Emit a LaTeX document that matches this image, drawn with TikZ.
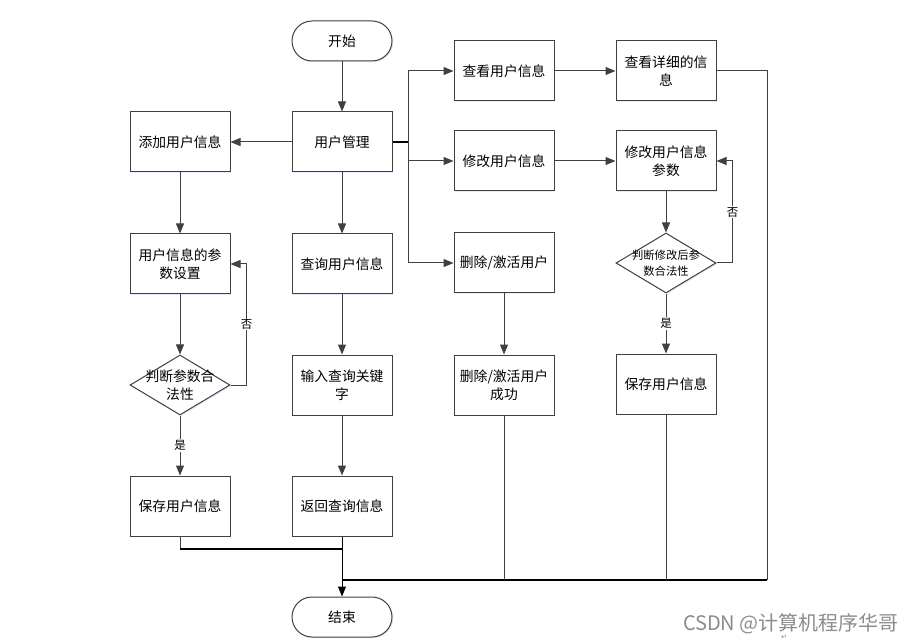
\documentclass[tikz,border=0pt]{standalone}
\usepackage{fontspec}
\setmainfont{Noto Sans CJK SC}
\newfontfamily\symfont{DejaVu Sans}
\usetikzlibrary{shapes.geometric,arrows.meta,shadows}
\begin{document}
\begin{tikzpicture}[x=1pt,y=-1pt,
  every node/.style={font=\fontsize{13.8}{18}\selectfont},
  boxshadow/.style={drop shadow={shadow xshift=1.2pt,shadow yshift=-1.2pt,fill=blue!20!white,opacity=0.45}},
  procbox/.style={draw=black!75,line width=1pt,fill=white,minimum width=100pt,minimum height=60pt,inner sep=1pt,align=center,boxshadow},
  termbox/.style={draw=black!75,line width=1pt,fill=white,rounded corners=20pt,minimum width=100pt,minimum height=40pt,boxshadow},
  decbox/.style={draw=black!75,line width=1pt,fill=white,diamond,minimum width=100pt,minimum height=60pt,inner sep=0pt,aspect=1.667,boxshadow},
  conn/.style={draw=black!75,line width=1pt},
  arr/.style={conn,-{Triangle[length=10pt,width=8pt]}},
  yesno/.style={fill=white,inner sep=1pt,font=\fontsize{11.5}{13}\selectfont}
]
\useasboundingbox (0,0) rectangle (910,644);
\fill[white] (0,0) rectangle (910,644);

% nodes
\node[termbox] (start) at (342,41) {开始};
\node[procbox] (mgmt) at (342,142) {用户管理};
\node[procbox] (add) at (180,142) {添加用户信息};
\node[procbox] (param) at (180,264) {用户信息的参\\数设置};
\node[decbox] (d1) at (180,385) {};
\node[align=center] (d1t) at (d1.center) {判断参数合\\法性};
\node[procbox] (saveL) at (180,506) {保存用户信息};
\node[procbox] (query) at (342,264) {查询用户信息};
\node[procbox] (input) at (342,385) {输入查询关键\\字};
\node[procbox] (ret) at (342,506) {返回查询信息};
\node[termbox] (end) at (342,617) {结束};
\node[procbox] (view) at (504,71) {查看用户信息};
\node[procbox] (detail) at (666,71) {查看详细的信\\息};
\node[procbox] (mod) at (504,161) {修改用户信息};
\node[procbox] (modp) at (666,161) {修改用户信息\\参数};
\node[procbox] (del) at (504,263) {删除/激活用户};
\node[procbox] (delok) at (504,385) {删除/激活用户\\成功};
\node[decbox] (d2) at (666,263) {};
\node[font=\fontsize{11.3}{16}\selectfont,align=center] (d2t) at (d2.center) {判断修改后参\\数合法性};
\node[procbox] (saveR) at (666,384) {保存用户信息};

% coordinates
\coordinate (br) at (408,142);
\coordinate (rt) at (767,71);
\coordinate (rb) at (767,580);
\coordinate (m) at (342,580);
\coordinate (dk) at (504,580);
\coordinate (sr) at (666,580);
\coordinate (sl) at (180,549);
\coordinate (ml) at (342,549);

% connectors
\draw[arr] (start) -- (mgmt);
\draw[arr] (mgmt) -- (add);
\draw[arr] (mgmt) -- (query);
\draw[arr] (add) -- (param);
\draw[arr] (param) -- (d1);
\draw[arr] (d1) -- node[yesno]{是} (saveL);
\draw[arr] (d1.east) -- ++(16,0) |- node[yesno,pos=0.25]{否} (param.east);
\draw[arr] (query) -- (input);
\draw[arr] (input) -- (ret);
\draw[conn,line width=1.5pt,draw=black] (mgmt.east) -- (br);
\draw[arr] (br) |- (view.west);
\draw[arr] (br) |- (mod.west);
\draw[arr] (br) |- (del.west);
\draw[arr] (view) -- (detail);
\draw[arr] (mod) -- (modp);
\draw[arr] (del) -- (delok);
\draw[arr] (modp) -- (d2);
\draw[arr] (d2) -- node[yesno]{是} (saveR);
\draw[arr] (d2.east) -- ++(16,0) |- node[yesno,pos=0.25]{否} (modp.east);
\draw[conn] (detail.east) -- (rt) -- (rb);
\draw[conn,draw=black,line width=1.1pt] (rb) -- (m);
\draw[conn] (delok.south) -- (dk);
\draw[conn] (saveR.south) -- (sr);
\draw[conn] (saveL.south) -- (sl);
\draw[conn,draw=black,line width=1.1pt] (sl) -- (ml);
\draw[arr,draw=black] (ret) -- (end);

% watermark
\node[text=black!45,font=\fontsize{20}{22}\selectfont,anchor=east,inner sep=0pt] (wm) at (899,624) {CSDN @计算机程序华哥};
\node[text=black!50,font=\symfont\fontsize{7}{8}\selectfont,inner sep=0pt] (pm) at (784,637) {↵};
\end{tikzpicture}
\end{document}
